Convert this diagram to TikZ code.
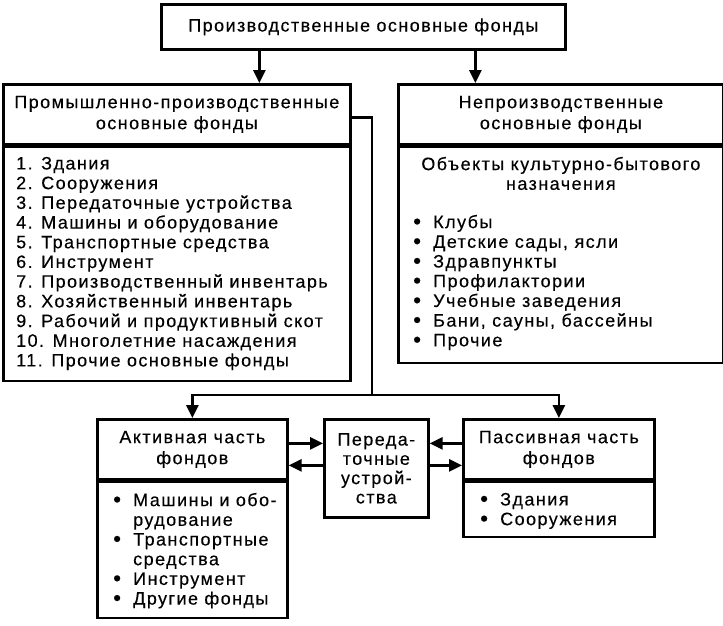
\documentclass[tikz,border=0pt]{standalone}
\usepackage{fontspec}
\setmainfont{Liberation Sans}[LetterSpace=8, FakeBold=0.3]
\usetikzlibrary{arrows.meta, positioning, calc}

\tikzset{
  box/.style={draw, line width=2.7pt, inner sep=0pt, anchor=north west, align=center},
  txt/.style={inner sep=0pt, anchor=north west, align=left},
  arr/.style={line width=2.7pt, -{Triangle[length=13pt,width=12pt]}},
  link/.style={line width=2.7pt},
}
\newcommand{\bul}{\makebox[20pt][l]{\raisebox{-0.05em}{\scalebox{1.25}{•}}}}
\newcommand{\cont}{\hspace*{20pt}}

\begin{document}
\begin{tikzpicture}[x=1pt, y=-1pt, font=\fontsize{18}{21}\selectfont]
\useasboundingbox (0,0) rectangle (723,625);

% top level
\node[box, minimum width=404pt, minimum height=45pt] (top) at (160,3) {Производственные основные фонды};

% left column
\node[box, minimum width=347pt, minimum height=60pt] (lhead) at (2,83) {Промышленно-производственные\\основные фонды};
\node[box, minimum width=347pt, minimum height=234pt] (lbody) at (lhead.south west) {};
\node[txt, font=\fontsize{18}{19.7}\selectfont] (llist) at ([xshift=14pt,yshift=-11pt]lbody.north west) {1. Здания\\2. Сооружения\\3. Передаточные устройства\\4. Машины и оборудование\\5. Транспортные средства\\6. Инструмент\\7. Производственный инвентарь\\8. Хозяйственный инвентарь\\9. Рабочий и продуктивный скот\\10. Многолетние насаждения\\11. Прочие основные фонды};

% right column
\node[box, minimum width=325pt, minimum height=60pt] (rhead) at (397,83) {Непроизводственные\\основные фонды};
\node[box, minimum width=325pt, minimum height=216pt] (rbody) at (rhead.south west) {};
\node[txt, anchor=north, align=center, font=\fontsize{18}{19.7}\selectfont] (rtitle) at ([yshift=-11pt]rbody.north) {Объекты культурно-бытового\\назначения};
\node[txt, font=\fontsize{18}{19.7}\selectfont] (rlist) at ([xshift=16pt,yshift=-69pt]rbody.north west) {\bul Клубы\\\bul Детские сады, ясли\\\bul Здравпункты\\\bul Профилактории\\\bul Учебные заведения\\\bul Бани, сауны, бассейны\\\bul Прочие};

% lower row
\node[box, minimum width=190pt, minimum height=60pt] (acthead) at (96,418) {Активная часть\\фондов};
\node[box, minimum width=190pt, minimum height=136pt] (actbody) at (acthead.south west) {};
\node[txt, font=\fontsize{18}{19.7}\selectfont] (actlist) at ([xshift=17pt,yshift=-12pt]actbody.north west) {\bul Машины и обо-\\\cont рудование\\\bul Транспортные\\\cont средства\\\bul Инструмент\\\bul Другие фонды};

\node[box, minimum width=104pt, minimum height=98pt, font=\fontsize{18}{19.3}\selectfont] (mid) at (323,418) {Переда-\\точные\\устрой-\\ства};

\node[box, minimum width=191pt, minimum height=60pt] (pashead) at (462,418) {Пассивная часть\\фондов};
\node[box, minimum width=191pt, minimum height=55pt] (pasbody) at (pashead.south west) {};
\node[txt, font=\fontsize{18}{19.7}\selectfont] (paslist) at ([xshift=18pt,yshift=-12pt]pasbody.north west) {\bul Здания\\\bul Сооружения};

% connectors
\coordinate (topl) at ([xshift=-104pt]top.south);
\coordinate (topr) at ([xshift=112pt]top.south);
\draw[arr] (topl) -- (topl |- lhead.north);
\draw[arr] (topr) -- (topr |- rhead.north);

\coordinate (split) at (372,395);
\draw[link] ([yshift=-3pt]lhead.east) -| (split);
\draw[arr] (split) -| (acthead.north);
\draw[arr] (split) -| (pashead.north);

\coordinate (a1) at ($(acthead.east)+(0,-6)$);
\coordinate (a2) at ($(acthead.east)+(0,16)$);
\coordinate (p1) at ($(pashead.west)+(0,-6)$);
\coordinate (p2) at ($(pashead.west)+(0,16)$);
\draw[arr] (a1) -- (a1 -| mid.west);
\draw[arr] (a2 -| mid.west) -- (a2);
\draw[arr] (p1) -- (p1 -| mid.east);
\draw[arr] (p2 -| mid.east) -- (p2);
\end{tikzpicture}
\end{document}
